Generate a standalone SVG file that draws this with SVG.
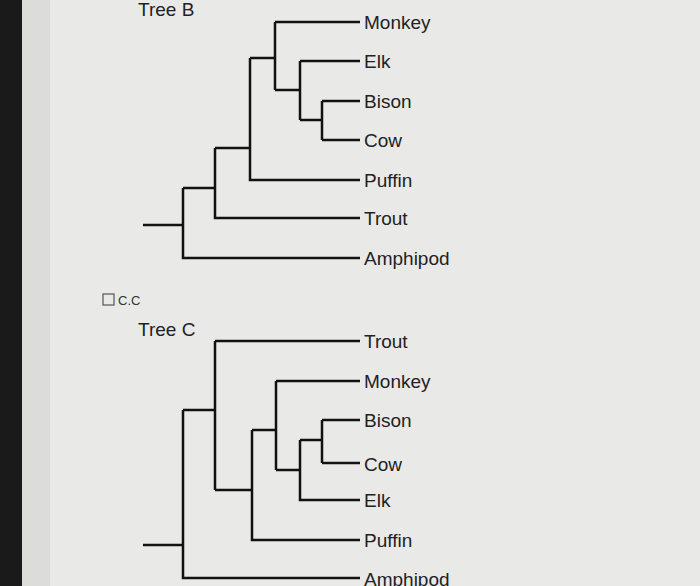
<svg xmlns="http://www.w3.org/2000/svg" width="700" height="586" viewBox="0 0 700 586">
<style>
.e{stroke:#111;stroke-width:2.5;fill:none}
.t{font-family:"Liberation Sans",Arial,sans-serif;font-size:19px;fill:#222}
</style>
<rect width="700" height="586" fill="#e9e9e8"/>
<rect x="0" width="22" height="586" fill="#1a1a1a"/>
<rect x="22" width="28" height="586" fill="#dcdcdb"/>
<text class="t" x="138" y="16" font-size="22">Tree B</text>
<g id="checkbox"><rect x="103" y="294" width="11" height="11" fill="none" stroke="#555" stroke-width="1.2"/><text x="118" y="305" font-family="Liberation Sans,sans-serif" font-size="13" fill="#333">C.C</text></g>
<text class="t" x="138" y="336" font-size="22">Tree C</text>
<g id="connectors">
<path class="e" d="M275,22H360M300,61H360M322,101H360M322,140H360M322,101V140M300,120H322M300,61V120M275,90H300M275,22V90M250,58H275M250,58V180H360M215,148H250M215,148V218H360M183,188H215M183,188V258H360M143,225H183"/>
<path class="e" d="M215,341H360M276,381H360M322,420H360M322,463H360M322,420V463M300,440H322M300,440V500H360M276,470H300M276,381V470M252,430H276M252,430V540H360M215,490H252M215,341V490M183,410H215M183,410V578H360M143,545H183"/>
</g>
<g id="labels">
<text class="t" x="364" y="29">Monkey</text>
<text class="t" x="364" y="68">Elk</text>
<text class="t" x="364" y="108">Bison</text>
<text class="t" x="364" y="147">Cow</text>
<text class="t" x="364" y="187">Puffin</text>
<text class="t" x="364" y="225">Trout</text>
<text class="t" x="364" y="265">Amphipod</text>
<text class="t" x="364" y="348">Trout</text>
<text class="t" x="364" y="388">Monkey</text>
<text class="t" x="364" y="427">Bison</text>
<text class="t" x="364" y="471">Cow</text>
<text class="t" x="364" y="507">Elk</text>
<text class="t" x="364" y="547">Puffin</text>
<text class="t" x="364" y="586">Amphipod</text>
</g>
</svg>
